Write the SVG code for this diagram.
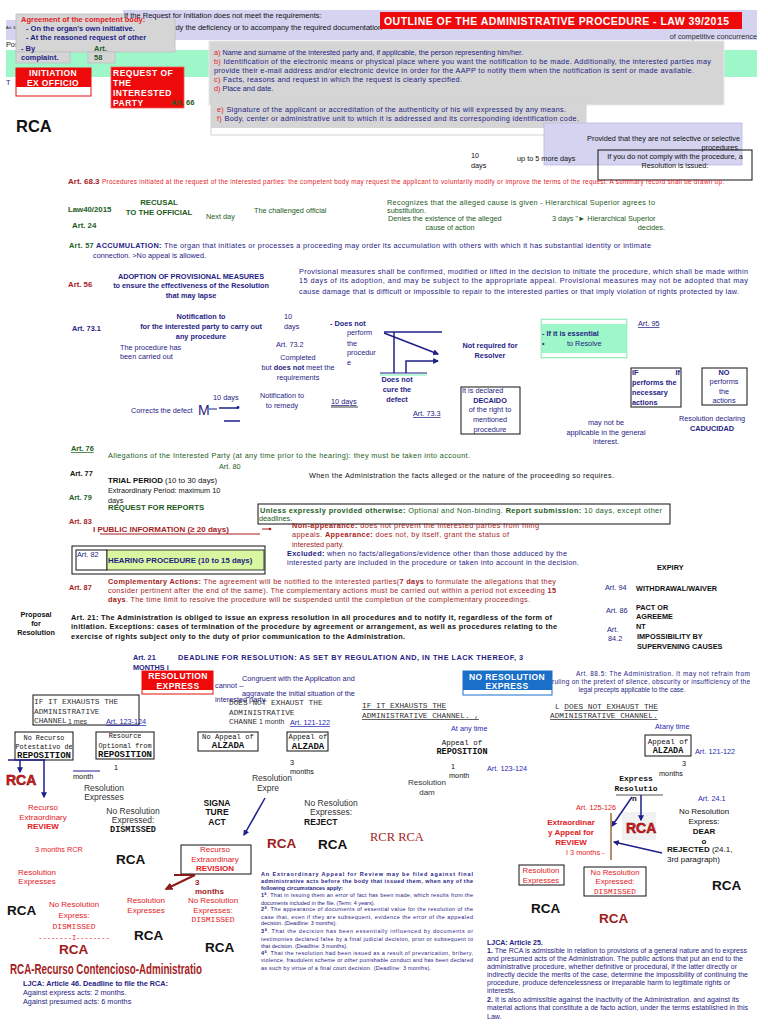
<svg xmlns="http://www.w3.org/2000/svg" width="768" height="1024" viewBox="0 0 768 1024">
<defs>
<marker id="ab" viewBox="0 0 10 10" refX="8" refY="5" markerWidth="4" markerHeight="4" orient="auto"><path d="M0,0L10,5L0,10z" fill="#1f1f8a"/></marker>
<marker id="ar" viewBox="0 0 10 10" refX="8" refY="5" markerWidth="4" markerHeight="4" orient="auto"><path d="M0,0L10,5L0,10z" fill="#8b1a1a"/></marker>
</defs>
<style>
text{font-family:"Liberation Sans",Arial,Helvetica,sans-serif;font-size:7.3px;fill:#1f2385}
.b{fill:#1f2385}
.bl{fill:#2a2ab5}
.g{fill:#1d5c1d}
.r{fill:#a51d1d}
.rr{fill:#e3201c}
.k{fill:#111}
.gy{fill:#333}
.w{fill:#fff}
.bd{font-weight:bold}
.c{text-anchor:middle}
.e{text-anchor:end}
.m{font-family:"Liberation Mono","DejaVu Sans Mono",monospace}
.rca{font-size:13.5px;font-weight:bold;fill:#111}
.rcd{font-size:13.5px;font-weight:bold;fill:#9e1b1b}
.rc3{font-size:14px;font-weight:bold;fill:#dd1f1f;stroke:#6a0000;stroke-width:0.5}
.u{text-decoration:underline}
.ln{stroke:#1f1f8a;stroke-width:1.5;fill:none}
.bx{fill:#fff;stroke:#111;stroke-width:1}
.gr{fill:#d5d5d5;stroke:#bdbdbd;stroke-width:0.8}
.xs{font-size:5.5px}
.t7{font-size:7px}
</style>
<rect width="768" height="1024" fill="#fff"/>

<g id="header">
<rect x="123" y="10" width="634" height="30" fill="#d4d4f0"/>
<rect x="6" y="20" width="117" height="20" fill="#d4d4f0"/>
<rect x="6" y="50" width="751" height="27" fill="#9ef7c8"/>
<text x="150" y="30" class="k" style="font-size:7.5px">to remedy the deficiency or to accompany the required documentation</text>
<text x="6" y="29" class="k" style="font-size:4px">Art. 68 -</text>
<text x="6" y="47" class="k">Pos:</text>
<text x="757" y="39" class="gy e">of competitive concurrence</text>
<text x="6" y="85" class="b">T</text>
</g>

<g id="agreement">
<rect x="16" y="14" width="159" height="38" class="gr"/>
<rect x="16" y="52" width="54" height="11" class="gr"/>
<rect x="88" y="52" width="27" height="11" class="gr"/>
<rect x="123" y="10" width="60" height="9" fill="#d4d4f0"/>
<text x="124" y="18" class="k" style="font-size:7.5px">If the Request for Initiation does not meet the requirements:</text>
<text x="21" y="22" class="rr bd" style="font-size:7.5px">Agreement of the competent body:</text>
<text x="26" y="31" class="b bd" style="font-size:7.5px">- On the organ's own initiative.</text>
<text x="26" y="40" class="b bd" style="font-size:7.5px">- At the reasoned request of other</text>
<text x="21" y="51" class="b bd" style="font-size:7.5px">- By</text>
<text x="21" y="60" class="b bd" style="font-size:7.5px">complaint.</text>
<text x="94" y="51" class="g bd" style="font-size:7.5px">Art.</text>
<text x="94" y="60" class="g bd" style="font-size:7.5px">58</text>
</g>

<g id="initiation-ex-officio">
<rect x="16" y="68" width="75" height="28" fill="#fff" stroke="#e01010" stroke-width="1"/>
<rect x="16" y="68" width="75" height="19" fill="#ee0a0a"/>
<text x="53" y="76" class="w bd c" style="font-size:8.5px;letter-spacing:0.4px">INITIATION</text>
<text x="53" y="86" class="w bd c" style="font-size:8.5px;letter-spacing:0.4px">EX OFFICIO</text>
</g>

<g id="request-interested-party">
<rect x="111" y="67" width="73" height="41" fill="#ee0a0a" stroke="#f06060" stroke-width="0.8"/>
<text x="113" y="76" class="w bd" style="font-size:8.5px;letter-spacing:0.5px">REQUEST OF</text>
<text x="113" y="86" class="w bd" style="font-size:8.5px;letter-spacing:0.5px">THE</text>
<text x="113" y="96" class="w bd" style="font-size:8.5px;letter-spacing:0.5px">INTERESTED</text>
<text x="113" y="106" class="w bd" style="font-size:8.5px;letter-spacing:0.5px">PARTY</text>
<text x="171" y="105" class="g bd" style="font-size:7.5px">Art. 66</text>
</g>

<g id="title">
<rect x="380" y="12" width="362" height="17" fill="#ee0a0a"/>
<text x="384" y="25" class="w bd" style="font-size:10.5px" textLength="345">OUTLINE OF THE ADMINISTRATIVE PROCEDURE - LAW 39/2015</text>
</g>

<g id="requirements-ad">
<rect x="209" y="41" width="515" height="64" fill="#d5d5d5" stroke="#e8e8e8" stroke-width="1"/>
<text x="214" y="54.5" textLength="309"><tspan class="rr">a)</tspan> Name and surname of the interested party and, if applicable, the person representing him/her.</text>
<text x="214" y="64" textLength="497"><tspan class="rr">b)</tspan> Identification of the electronic means or physical place where you want the notification to be made. Additionally, the interested parties may</text>
<text x="214" y="73" textLength="480">provide their e-mail address and/or electronic device in order for the AAPP to notify them when the notification is sent or made available.</text>
<text x="214" y="82" textLength="248"><tspan class="rr">c)</tspan> Facts, reasons and request in which the request is clearly specified.</text>
<text x="214" y="91"><tspan class="rr">d)</tspan> Place and date.</text>
</g>

<g id="requirements-ef">
<rect x="211" y="99" width="375" height="36" fill="#fff" stroke="#d0d0d0" stroke-width="1"/>
<rect x="211" y="99" width="375" height="29" fill="#d5d5d5"/>
<text x="217" y="112" textLength="349"><tspan class="rr">e)</tspan> Signature of the applicant or accreditation of the authenticity of his will expressed by any means.</text>
<text x="217" y="121" textLength="362"><tspan class="rr">f)</tspan> Body, center or administrative unit to which it is addressed and its corresponding identification code.</text>
</g>

<g id="rca-top"><text x="16" y="132" class="k bd" style="font-size:16.5px">RCA</text></g>

<g id="competitive">
<rect x="598" y="150" width="154" height="30" fill="#fff"/>
<rect x="544" y="123" width="198" height="42" fill="#d4d4f0" stroke="#b8b8e0" stroke-width="0.8"/>
<text x="740" y="140.5" class="k e">Provided that they are not selective or selective</text>
<text x="740" y="149.5" class="k e">procedures.</text>
<text x="471" y="158" class="k">10</text>
<text x="471" y="168" class="k">days</text>
<text x="517" y="161" class="k">up to 5 more days</text>
</g>

<g id="not-comply">
<rect x="598" y="150" width="154" height="30" fill="none" stroke="#111" stroke-width="1"/>
<text x="675" y="158.5" class="k c">If you do not comply with the procedure, a</text>
<text x="675" y="168" class="k c">Resolution is issued:</text>
</g>

<g id="art-68-3">
<text x="68" y="184" class="r bd" style="font-size:8px">Art. 68.3</text>
<text x="102" y="184" class="rr" style="font-size:6.3px" textLength="622">Procedures initiated at the request of the interested parties: the competent body may request the applicant to voluntarily modify or improve the terms of the request. A summary record shall be drawn up.</text>
</g>

<g id="recusal">
<text x="68" y="212" class="g bd" style="font-size:7.8px">Law40/2015</text>
<text x="72" y="228" class="g bd" style="font-size:7.8px">Art. 24</text>
<text x="159" y="205" class="g bd c" style="font-size:7.8px">RECUSAL</text>
<text x="159" y="215" class="g bd c" style="font-size:7.8px">TO THE OFFICIAL</text>
<text x="206" y="219" class="g">Next day</text>
<text x="254" y="213" class="g">The challenged official</text>
<text x="387" y="205" class="g" textLength="268">Recognizes that the alleged cause is given - Hierarchical Superior agrees to</text>
<text x="387" y="213" class="g">substitution.</text>
<text x="388" y="221" class="g">Denies the existence of the alleged</text>
<text x="450" y="230" class="g c">cause of action</text>
<text x="552" y="221" class="g">3 days "► Hierarchical Superior</text>
<text x="665" y="230" class="g e">decides.</text>
</g>

<g id="accumulation">
<text x="69" y="248" textLength="582"><tspan class="g bd">Art. 57</tspan><tspan class="bd"> ACCUMULATION:</tspan> The organ that initiates or processes a proceeding may order its accumulation with others with which it has substantial identity or intimate</text>
<text x="93" y="258">connection. &gt;No appeal is allowed.</text>
</g>

<g id="provisional-measures">
<text x="68" y="287" class="r bd" style="font-size:7.8px">Art. 56</text>
<text x="191" y="279" class="bd c">ADOPTION OF PROVISIONAL MEASURES</text>
<text x="191" y="288" class="bd c">to ensure the effectiveness of the Resolution</text>
<text x="191" y="298" class="bd c">that may lapse</text>
<text x="299" y="274" textLength="449">Provisional measures shall be confirmed, modified or lifted in the decision to initiate the procedure, which shall be made within</text>
<text x="299" y="283" textLength="449">15 days of its adoption, and may be subject to the appropriate appeal. Provisional measures may not be adopted that may</text>
<text x="299" y="294" textLength="440">cause damage that is difficult or impossible to repair to the interested parties or that imply violation of rights protected by law.</text>
</g>

<g id="art-73">
<text x="72" y="331" class="bd">Art. 73.1</text>
<text x="201" y="319" class="bd c">Notification to</text>
<text x="201" y="329" class="bd c">for the interested party to carry out</text>
<text x="201" y="339" class="bd c">any procedure</text>
<text x="284" y="319">10</text>
<text x="284" y="329">days</text>
<text x="330" y="326" class="bd">- Does not</text>
<text x="347" y="335">perform</text>
<text x="347" y="346">the</text>
<text x="347" y="355">procedur</text>
<text x="347" y="365">e</text>
<text x="120" y="350">The procedure has</text>
<text x="120" y="359">been carried out</text>
<text x="276" y="347">Art. 73.2</text>
<text x="298" y="360" class="c">Completed</text>
<text x="298" y="370" class="c">but <tspan class="bd">does not</tspan> meet the</text>
<text x="298" y="380" class="c">requirements</text>
<text x="213" y="400">10 days</text>
<text x="131" y="413">Corrects the defect</text>
<text x="198" y="415" style="font-size:14px">M</text>
<text x="282" y="398" class="c">Notification to</text>
<text x="282" y="408" class="c">to remedy</text>
<text x="331" y="404" class="u">10 days</text>
<text x="397" y="382" class="bd c">Does not</text>
<text x="397" y="392" class="bd c">cure the</text>
<text x="397" y="402" class="bd c">defect</text>
<text x="413" y="416" class="u">Art. 73.3</text>
<text x="490" y="348" class="bd c">Not required for</text>
<text x="490" y="358" class="bd c">Resolver</text>
</g>

<g id="essential">
<rect x="541" y="319" width="86" height="39" fill="#9ef7c8" stroke="#80e0b0" stroke-width="0.5"/>
<rect x="542" y="320" width="84" height="4" fill="#fff"/>
<rect x="542" y="353" width="84" height="4" fill="#fff"/>
<text x="542" y="336" class="bd">- If it is essential</text>
<text x="542" y="346">•</text>
<text x="567" y="346">to Resolve</text>
<text x="638" y="326" class="u">Art. 95</text>
</g>

<g id="decaido">
<rect x="461" y="387" width="59" height="47" class="bx"/>
<text x="462" y="393">It is declared</text>
<text x="490" y="403" class="bd c">DECAIDO</text>
<text x="490" y="412" class="c">of the right to</text>
<text x="490" y="422" class="c">mentioned</text>
<text x="490" y="432" class="c">procedure</text>
</g>

<g id="performs">
<rect x="631" y="368" width="50" height="39" class="bx"/>
<text x="632" y="375" class="bd">IF</text>
<text x="680" y="375" class="bd e">If</text>
<text x="632" y="385" class="bd">performs the</text>
<text x="632" y="395" class="bd">necessary</text>
<text x="632" y="405" class="bd">actions</text>
</g>

<g id="not-performs">
<rect x="702" y="368" width="45" height="37" class="bx"/>
<text x="724" y="375" class="bd c">NO</text>
<text x="724" y="384" class="c">performs</text>
<text x="724" y="394" class="c">the</text>
<text x="724" y="403" class="c">actions</text>
</g>

<g id="caducidad">
<text x="606" y="425" class="c">may not be</text>
<text x="606" y="435" class="c">applicable in the general</text>
<text x="606" y="444" class="c">interest.</text>
<text x="712" y="421" class="c">Resolution declaring</text>
<text x="712" y="431" class="bd c">CADUCIDAD</text>
</g>

<g id="instruction">
<text x="71" y="451" class="g bd u">Art. 76</text>
<text x="108" y="458" class="g" textLength="362">Allegations of the Interested Party (at any time prior to the hearing): they must be taken into account.</text>
<text x="219" y="469" class="g">Art. 80</text>
<text x="70" y="476" class="k bd">Art. 77</text>
<text x="108" y="483" class="k" style="font-size:7.8px"><tspan class="bd">TRIAL PERIOD</tspan> (10 to 30 days)</text>
<text x="309" y="478" class="k" textLength="305">When the Administration the facts alleged or the nature of the proceeding so requires.</text>
<text x="108" y="493" class="k">Extraordinary Period: maximum 10</text>
<text x="108" y="503" class="k">days</text>
<text x="69" y="500" class="g bd">Art. 79</text>
<text x="108" y="510" class="g bd" style="font-size:7.8px">REQUEST FOR REPORTS</text>
</g>

<g id="reports-box">
<rect x="258" y="504" width="412" height="20" class="bx"/>
<text x="260" y="512.5" class="g" textLength="402"><tspan class="bd">Unless expressly provided otherwise:</tspan> Optional and Non-binding. <tspan class="bd">Report submission:</tspan> 10 days, except other</text>
<text x="259" y="521" class="g">deadlines.</text>
</g>

<g id="public-information">
<text x="69" y="524" class="r bd">Art. 83</text>
<text x="93" y="532" class="r bd" style="font-size:8px">I <tspan>PUBLIC INFORMATION (≥ 20 days)</tspan></text>
<text x="292" y="528" class="r" textLength="247"><tspan class="bd">Non-appearance:</tspan> does not prevent the interested parties from filing</text>
<text x="292" y="537" class="r" textLength="217">appeals. <tspan class="bd">Appearance:</tspan> does not, by itself, grant the status of</text>
<text x="292" y="547" class="r">interested party.</text>
<text x="287" y="556" textLength="280"><tspan class="bd">Excluded:</tspan> when no facts/allegations/evidence other than those adduced by the</text>
<text x="287" y="565" textLength="292">interested party are included in the procedure or taken into account in the decision.</text>
</g>

<g id="hearing">
<rect x="72" y="546" width="193" height="28" class="bx"/>
<rect x="76" y="550" width="31" height="20" class="bx"/>
<rect x="107" y="550" width="157" height="20" fill="#d8f7a0" stroke="#111" stroke-width="0.8"/>
<text x="77" y="557">Art. 82</text>
<text x="108" y="563" class="bd" style="font-size:7.8px">HEARING PROCEDURE (10 to 15 days)</text>
</g>

<g id="complementary">
<text x="69" y="590" class="r bd">Art. 87</text>
<text x="108" y="584" class="r" textLength="448"><tspan class="bd">Complementary Actions:</tspan> The agreement will be notified to the interested parties(<tspan class="bd">7 days</tspan> to formulate the allegations that they</text>
<text x="108" y="593" class="r" textLength="448">consider pertinent after the end of the same). The complementary actions must be carried out within a period not exceeding <tspan class="bd">15</tspan></text>
<text x="108" y="602" class="r" textLength="422"><tspan class="bd">days</tspan>. The time limit to resolve the procedure will be suspended until the completion of the complementary proceedings.</text>
</g>

<g id="termination">
<text x="657" y="570" class="k bd">EXPIRY</text>
<text x="605" y="590">Art. 94</text>
<text x="636" y="591" class="k bd">WITHDRAWAL/WAIVER</text>
<text x="606" y="613">Art. 86</text>
<text x="636" y="610" class="k bd">PACT OR</text>
<text x="636" y="619" class="k bd">AGREEME</text>
<text x="636" y="629" class="k bd">NT</text>
<text x="607" y="632">Art.</text>
<text x="608" y="641">84.2</text>
<text x="637" y="639" class="k bd">IMPOSSIBILITY BY</text>
<text x="637" y="649" class="k bd">SUPERVENING CAUSES</text>
</g>

<g id="proposal">
<text x="36" y="617" class="k bd c">Proposal</text>
<text x="36" y="626" class="k bd c">for</text>
<text x="36" y="635" class="k bd c">Resolution</text>
</g>

<g id="art-21">
<text x="71" y="620" class="k bd" textLength="481">Art. 21: The Administration is obliged to issue an express resolution in all procedures and to notify it, regardless of the form of</text>
<text x="71" y="629" class="k bd" textLength="486">initiation. Exceptions: cases of termination of the procedure by agreement or arrangement, as well as procedures relating to the</text>
<text x="71" y="639" class="k bd" textLength="334">exercise of rights subject only to the duty of prior communication to the Administration.</text>
<text x="133" y="660" class="bd">Art. 21</text>
<text x="178" y="660" class="bd" textLength="345">DEADLINE FOR RESOLUTION: AS SET BY REGULATION AND, IN THE LACK THEREOF, 3</text>
<text x="133" y="670" class="bd">MONTHS i</text>
</g>

<g id="resolution-express">
<rect x="142" y="671" width="71" height="23" fill="#fff" stroke="#e01010" stroke-width="1"/>
<rect x="142" y="671" width="71" height="19" fill="#ee0a0a"/>
<text x="178" y="679" class="w bd c" style="font-size:8.5px;letter-spacing:0.4px">RESOLUTION</text>
<text x="178" y="689" class="w bd c" style="font-size:8.5px;letter-spacing:0.4px">EXPRESS</text>
<text x="215" y="688">cannot --</text>
<text x="242" y="681">Congruent with the Application and</text>
<text x="242" y="696">aggravate the initial situation of the</text>
<text x="215" y="702">interested party.</text>
</g>

<g id="no-resolution-express">
<rect x="463" y="671" width="89" height="24" fill="#fff" stroke="#1a6fc8" stroke-width="1"/>
<rect x="463" y="671" width="89" height="19" fill="#1a6fc8"/>
<text x="507" y="680" class="w bd c" style="font-size:8.5px;letter-spacing:0.4px">NO RESOLUTION</text>
<text x="507" y="689" class="w bd c" style="font-size:8.5px;letter-spacing:0.4px">EXPRESS</text>
<text x="576" y="676" class="t7" textLength="174" style="font-size:6.5px">Art. 88.5: The Administration. It may not refrain from</text>
<text x="552" y="684" class="t7" textLength="198" style="font-size:6.5px">ruling on the pretext of silence, obscurity or insufficiency of the</text>
<text x="632" y="692" class="c" style="font-size:6.5px">legal precepts applicable to the case.</text>
</g>

<g id="express-exhausts">
<rect x="33" y="695" width="106" height="30" class="bx"/>
<text x="34" y="704" class="m gy" style="font-size:7.8px">IF IT EXHAUSTS THE</text>
<text x="34" y="714" class="m gy" style="font-size:7.8px">ADMINISTRATIVE</text>
<text x="34" y="723" class="m gy" style="font-size:7.8px">CHANNEL</text>
<text x="68" y="724" class="gy" style="font-size:7px">1 mes</text>
<text x="106" y="724" class="bl u">Art. 123-124</text>
</g>

<g id="express-not-exhausts">
<text x="229" y="705" class="m gy" style="font-size:7.8px">DOES NOT EXHAUST THE</text>
<text x="229" y="715" class="m gy" style="font-size:7.8px">ADMINISTRATIVE</text>
<text x="229" y="724" class="m gy" style="font-size:7.8px">CHANNE</text>
<text x="259" y="724" class="gy" style="font-size:7px">1 month</text>
<text x="290" y="725" class="bl u">Art. 121-122</text>
</g>

<g id="no-express-exhausts">
<text x="362" y="708" class="m gy u" style="font-size:7.8px">IF IT EXHAUSTS THE</text>
<text x="362" y="718" class="m gy u" style="font-size:7.8px">ADMINISTRATIVE CHANNEL. ,</text>
<text x="451" y="731" class="bl">At any time</text>
<text x="462" y="745" class="m k c" style="font-size:7.5px">Appeal of</text>
<text x="462" y="754" class="m k bd c" style="font-size:8.5px">REPOSITION</text>
<text x="451" y="769" class="k">1</text>
<text x="449" y="778" class="k">month</text>
<text x="487" y="771" class="bl">Art. 123-124</text>
<text x="427" y="785" class="gy c" style="font-size:8px">Resolution</text>
<text x="427" y="795" class="gy c" style="font-size:8px">dam</text>
</g>

<g id="no-express-not-exhausts">
<text x="555" y="709" class="m gy" style="font-size:7.8px">L <tspan class="u">DOES NOT EXHAUST THE</tspan></text>
<text x="550" y="718" class="m gy u" style="font-size:7.8px">ADMINISTRATIVE CHANNEL.</text>
<text x="655" y="729" class="bl">At<tspan>any time</tspan></text>
<rect x="645" y="735" width="46" height="21" class="bx"/>
<text x="668" y="744" class="m k c" style="font-size:7.5px">Appeal of</text>
<text x="668" y="753" class="m k bd c" style="font-size:8.5px">ALZADA</text>
<text x="695" y="754" class="bl">Art. 121-122</text>
<text x="682" y="766" class="k">3</text>
<text x="659" y="776" class="k">months</text>
<text x="636" y="781" class="k bd c m" style="font-size:8px">Express</text>
<text x="636" y="791" class="k bd c m" style="font-size:8px">Resolutio</text>
<text x="632" y="801" class="k bd m" style="font-size:8px">n</text>
<text x="698" y="801" class="bl">Art. 24.1</text>
<text x="704" y="814" class="k c" style="font-size:8px">No Resolution</text>
<text x="704" y="824" class="k c" style="font-size:8px">Express:</text>
<text x="704" y="834" class="k bd c" style="font-size:8px">DEAR</text>
<text x="704" y="844" class="k bd c" style="font-size:8px">o</text>
<text x="667" y="852" class="k" style="font-size:8px"><tspan class="bd">REJECTED</tspan> (24.1,</text>
<text x="667" y="862" class="k" style="font-size:8px">3rd paragraph)</text>
<text x="576" y="810" class="rr">Art. 125-126</text>
<text x="571" y="825" class="rr bd c" style="font-size:8px">Extraordinar</text>
<text x="571" y="835" class="rr bd c" style="font-size:8px">y Appeal for</text>
<text x="571" y="845" class="rr bd c" style="font-size:8px">REVIEW</text>
<text x="566" y="855" class="rr">I 3 months -</text>
<rect x="622" y="812" width="34" height="28" fill="#f1f1f1"/>
<text x="626" y="833" class="rc3">RCA</text>
</g>

<g id="box-no-recurso">
<rect x="15" y="732" width="58" height="28" class="bx"/>
<text x="44" y="740" class="m k c" style="font-size:6.8px">No Recurso</text>
<text x="44" y="749" class="m k c" style="font-size:6.8px">Potestativo de</text>
<text x="44" y="758" class="m k bd c" style="font-size:9px">REPOSITION</text>
</g>

<g id="box-resource-optional">
<rect x="96" y="732" width="58" height="27" class="bx"/>
<text x="125" y="738" class="m k c" style="font-size:6.8px">Resource</text>
<text x="125" y="748" class="m k c" style="font-size:6.8px">Optional from</text>
<text x="125" y="757" class="m k bd c" style="font-size:9px">REPOSITION</text>
</g>

<g id="box-no-alzada">
<rect x="198" y="732" width="60" height="19" class="bx"/>
<text x="228" y="739" class="m k c" style="font-size:7.2px">No Appeal of</text>
<text x="228" y="748" class="m k bd c" style="font-size:9px">ALZADA</text>
</g>

<g id="box-alzada">
<rect x="287" y="732" width="41" height="19" class="bx"/>
<text x="308" y="739" class="m k c" style="font-size:7.2px">Appeal of</text>
<text x="308" y="749" class="m k bd c" style="font-size:9px">ALZADA</text>
</g>

<g id="express-branch-left">
<text x="6" y="785" class="rc3">RCA</text>
<text x="114" y="770" class="k">1</text>
<text x="73" y="779" class="k">month</text>
<text x="104" y="791" class="gy c" style="font-size:8.5px">Resolution</text>
<text x="104" y="800" class="gy c" style="font-size:8.5px">Expresses</text>
<text x="133" y="814" class="gy c" style="font-size:8.5px">No Resolution</text>
<text x="133" y="823" class="gy c" style="font-size:8.5px">Expressed:</text>
<text x="133" y="832" class="k bd c m" style="font-size:8.5px">DISMISSED</text>
<text x="43" y="810" class="rr c" style="font-size:8px">Recurso</text>
<text x="43" y="820" class="rr c" style="font-size:8px">Extraordinary</text>
<text x="43" y="829" class="rr bd c" style="font-size:8px">REVIEW</text>
<text x="35" y="852" class="rr">3 months RCR</text>
<text x="116" y="864" class="rca">RCA</text>
<text x="37" y="875" class="rr c" style="font-size:8px">Resolution</text>
<text x="37" y="884" class="rr c" style="font-size:8px">Expresses</text>
<text x="7" y="915" class="rca">RCA</text>
<text x="74" y="907" class="rr c" style="font-size:8px">No Resolution</text>
<text x="74" y="918" class="rr c" style="font-size:8px">Express:</text>
<text x="74" y="929" class="rr c m" style="font-size:8px">DISMISSED</text>
<text x="74" y="940" class="rr c m" style="font-size:7px">--------I--------</text>
<text x="134" y="940" class="rca">RCA</text>
<text x="59" y="954" class="rcd">RCA</text>
</g>

<g id="express-branch-right">
<text x="290" y="765" class="k">3</text>
<text x="290" y="774" class="k">months</text>
<text x="272" y="781" class="gy c" style="font-size:8.5px">Resolution</text>
<text x="268" y="791" class="gy c" style="font-size:8.5px">Expre</text>
<text x="217" y="806" class="k bd c" style="font-size:8.5px">SIGNA</text>
<text x="217" y="815" class="k bd c" style="font-size:8.5px">TURE</text>
<text x="217" y="825" class="k bd c" style="font-size:8.5px">ACT</text>
<text x="331" y="806" class="gy c" style="font-size:8.5px">No Resolution</text>
<text x="331" y="815" class="gy c" style="font-size:8.5px">Expresses:</text>
<text x="304" y="825" class="k bd" style="font-size:8.5px">REJECT</text>
<text x="267" y="848" class="rcd">RCA</text>
<text x="318" y="849" class="rca">RCA</text>
<text x="370" y="841" class="r" style="font-family:'Liberation Serif',serif;font-size:12.5px">RCR RCA</text>
</g>

<g id="revision">
<rect x="181" y="845" width="70" height="29" class="bx"/>
<text x="215" y="852" class="rr c" style="font-size:8px">Recurso</text>
<text x="215" y="862" class="rr c" style="font-size:8px">Extraordinary</text>
<text x="215" y="871" class="rr bd c" style="font-size:8px">REVISION</text>
<text x="195" y="885" class="r bd" style="font-size:8px">3</text>
<text x="195" y="894" class="r bd" style="font-size:8px">months</text>
<text x="146" y="903" class="rr c" style="font-size:8px">Resolution</text>
<text x="146" y="913" class="rr c" style="font-size:8px">Expresses</text>
<text x="213" y="903" class="rr c" style="font-size:8px">No Resolution</text>
<text x="213" y="913" class="rr c" style="font-size:8px">Expresses:</text>
<text x="213" y="922" class="rr c m" style="font-size:8px">DISMISSED</text>
<text x="205" y="952" class="rca">RCA</text>
</g>

<g id="rca-legend">
<text x="10" y="974" class="r bd" style="font-size:14px" textLength="192" lengthAdjust="spacingAndGlyphs">RCA-Recurso Contencioso-Administratio</text>
<text x="23" y="986" class="bd" textLength="145">LJCA: Article 46. Deadline to file the RCA:</text>
<text x="23" y="995">Against express acts: 2 months.</text>
<text x="23" y="1004">Against presumed acts: 6 months</text>
</g>

<g id="extraordinary-appeal-text">
<text x="261" y="876" class="xs bd" textLength="212">An Extraordinary Appeal for Review may be filed against final</text>
<text x="261" y="883" class="xs bd" textLength="212">administrative acts before the body that issued them, when any of the</text>
<text x="261" y="890" class="xs bd">following circumstances apply:</text>
<text x="261" y="897" class="xs" textLength="212"><tspan class="bd">1ª</tspan>. That in issuing them an error of fact has been made, which results from the</text>
<text x="261" y="905" class="xs">documents included in the file. (Term: 4 years).</text>
<text x="261" y="911" class="xs" textLength="212"><tspan class="bd">2ª</tspan>. The appearance of documents of essential value for the resolution of the</text>
<text x="261" y="919" class="xs" textLength="212">case that, even if they are subsequent, evidence the error of the appealed</text>
<text x="261" y="925" class="xs">decision. (Deadline: 3 months).</text>
<text x="261" y="933" class="xs" textLength="212"><tspan class="bd">3ª</tspan>. That the decision has been essentially influenced by documents or</text>
<text x="261" y="941" class="xs" textLength="212">testimonies declared false by a final judicial decision, prior or subsequent to</text>
<text x="261" y="948" class="xs">that decision. (Deadline: 3 months).</text>
<text x="261" y="955" class="xs" textLength="212"><tspan class="bd">4ª</tspan>. That the resolution had been issued as a result of prevarication, bribery,</text>
<text x="261" y="962" class="xs" textLength="212">violence, fraudulent scheme or other punishable conduct and has been declared</text>
<text x="261" y="970" class="xs" textLength="170">as such by virtue of a final court decision. (Deadline: 3 months).</text>
</g>

<g id="review-results">
<rect x="519" y="865" width="45" height="20" class="bx"/>
<text x="541" y="873" class="rr c" style="font-size:7.8px">Resolution</text>
<text x="541" y="883" class="rr c" style="font-size:7.8px">Expresses</text>
<rect x="584" y="867" width="62" height="29" class="bx"/>
<text x="615" y="875" class="rr c" style="font-size:7.8px">No Resolution</text>
<text x="615" y="884" class="rr c" style="font-size:7.8px">Expressed:</text>
<text x="615" y="894" class="rr c m" style="font-size:7.8px">DISMISSED</text>
<text x="712" y="890" class="rca">RCA</text>
<text x="531" y="913" class="rca">RCA</text>
<text x="599" y="923" class="rcd">RCA</text>
</g>

<g id="ljca-25">
<text x="487" y="945" class="bd t7">LJCA: Article 25.</text>
<text x="487" y="953" class="t7" textLength="260"><tspan class="bd">1.</tspan> The RCA is admissible in relation to provisions of a general nature and to express</text>
<text x="487" y="961" class="t7" textLength="256">and presumed acts of the Administration. The public actions that put an end to the</text>
<text x="487" y="969" class="t7" textLength="250">administrative procedure, whether definitive or procedural, if the latter directly or</text>
<text x="487" y="977" class="t7" textLength="261">indirectly decide the merits of the case, determine the impossibility of continuing the</text>
<text x="487" y="985" class="t7" textLength="243">procedure, produce defencelessness or irreparable harm to legitimate rights or</text>
<text x="487" y="993" class="t7">interests.</text>
<text x="487" y="1002" class="t7" textLength="252"><tspan class="bd">2.</tspan> It is also admissible against the inactivity of the Administration. and against its</text>
<text x="487" y="1010" class="t7" textLength="261">material actions that constitute a de facto action, under the terms established in this</text>
<text x="487" y="1019" class="t7">Law.</text>
</g>

<g id="connectors">
<line x1="384" y1="332" x2="442" y2="332" class="ln"/>
<line x1="384" y1="333" x2="438" y2="354" class="ln" marker-end="url(#ab)"/>
<line x1="394" y1="332" x2="394" y2="373" class="ln"/>
<polyline points="406,373 406,361 438,361" class="ln" marker-end="url(#ab)"/>
<line x1="380" y1="373" x2="427" y2="373" stroke="#1f1f8a" stroke-width="1.2"/>
<line x1="380" y1="375" x2="427" y2="375" stroke="#9ef7c8" stroke-width="1.5"/>
<line x1="209" y1="409" x2="217" y2="409" stroke="#1f1f8a" stroke-width="1"/>
<line x1="219" y1="408" x2="238" y2="408" stroke="#1f1f8a" stroke-width="1.5"/>
<circle cx="238" cy="407.5" r="1.4" fill="#1f1f8a"/>
<line x1="224" y1="421" x2="240" y2="421" stroke="#1f1f8a" stroke-width="1.5"/>
<line x1="331" y1="407" x2="358" y2="407" stroke="#111" stroke-width="0.8"/>
<line x1="100" y1="534" x2="260" y2="534" stroke="#a51d1d" stroke-width="1"/>
<line x1="262" y1="529" x2="270" y2="529" stroke="#a51d1d" stroke-width="1"/>
<circle cx="270" cy="529" r="1.3" fill="#a51d1d"/>
<line x1="8" y1="760" x2="45" y2="760" class="ln"/>
<line x1="20" y1="760" x2="20" y2="772" class="ln" stroke-width="2" marker-end="url(#ab)"/>
<line x1="44" y1="760" x2="44" y2="797" class="ln" stroke-width="2" marker-end="url(#ab)"/>
<line x1="73" y1="771" x2="100" y2="771" stroke="#1f1f8a" stroke-width="1"/>
<line x1="265" y1="798" x2="244" y2="835" class="ln" stroke-width="2" marker-end="url(#ab)"/>
<line x1="174" y1="875" x2="195" y2="875" stroke="#8b1a1a" stroke-width="2"/>
<line x1="195" y1="875" x2="166" y2="889" stroke="#8b1a1a" stroke-width="2" marker-end="url(#ar)"/>
<line x1="616" y1="795" x2="663" y2="795" stroke="#555" stroke-width="1"/>
<line x1="632" y1="797" x2="612" y2="826" class="ln" stroke-width="2" marker-end="url(#ab)"/>
<line x1="641" y1="795" x2="641" y2="820" class="ln" stroke-width="2" marker-end="url(#ab)"/>
<line x1="662" y1="853" x2="614" y2="842" class="ln" stroke-width="2" marker-end="url(#ab)"/>
<line x1="611" y1="813" x2="611" y2="860" stroke="#9a6a3a" stroke-width="1.5"/>
</g>
</svg>
